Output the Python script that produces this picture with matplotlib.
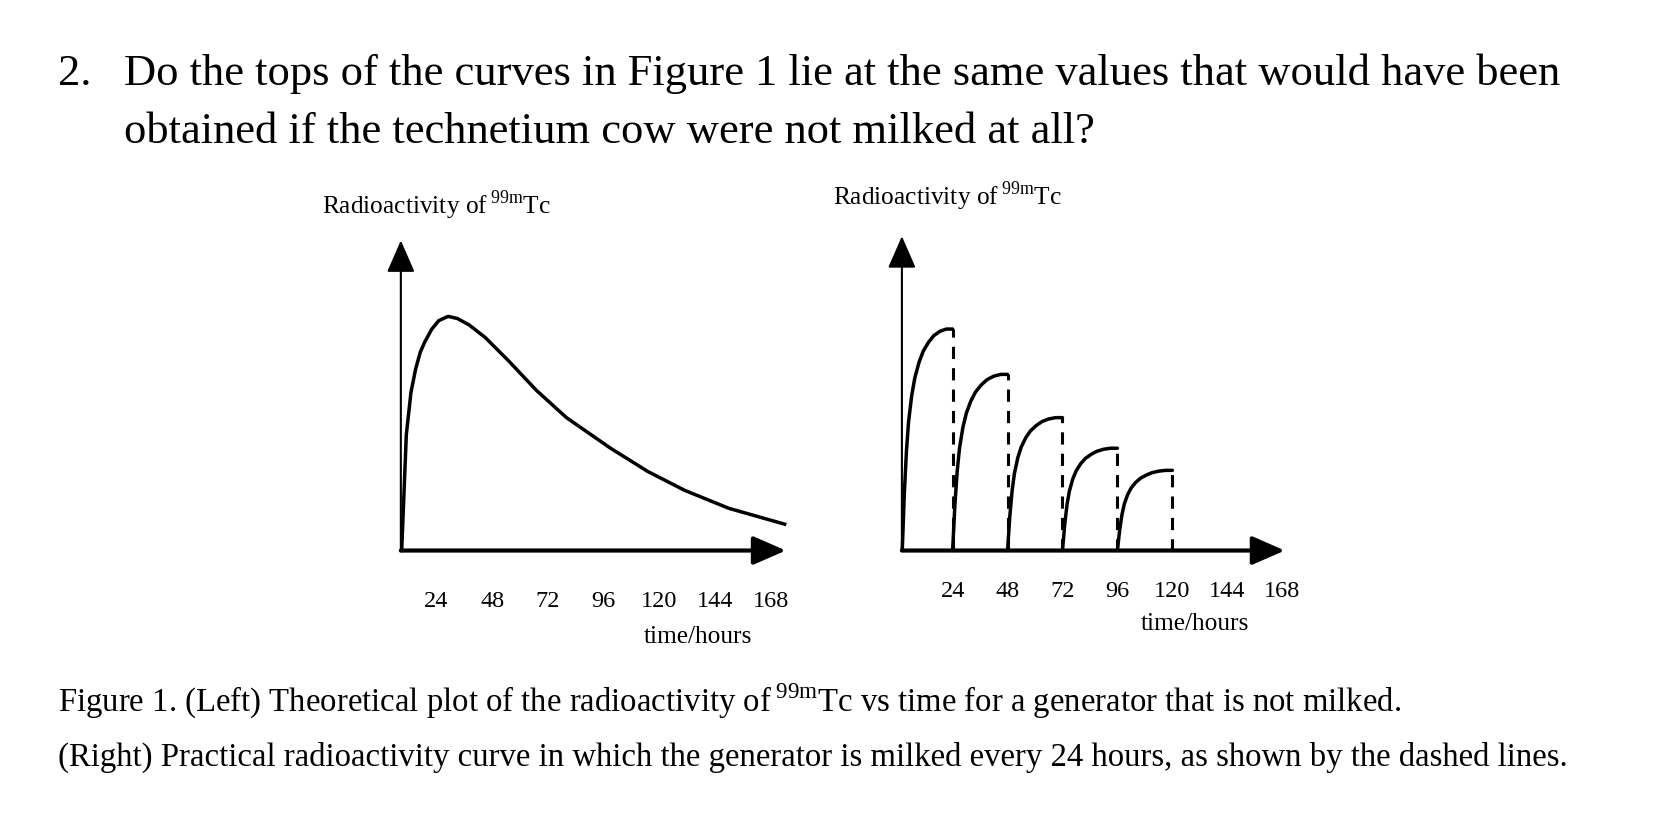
import numpy as np
import matplotlib
matplotlib.use("Agg")
import matplotlib.pyplot as plt

plt.rcParams['font.family'] = ['Liberation Serif', 'DejaVu Serif']
plt.rcParams['mathtext.fontset'] = 'custom'
plt.rcParams['mathtext.rm'] = 'Liberation Serif'

# data
tick_hours = [24, 48, 72, 96, 120, 144, 168]
tick_labels = ['24', '48', '72', '96', '120', '144', '168']
left_t = [9, 11, 13, 15, 17, 19, 22, 25, 29, 33, 38, 45, 55, 67, 80, 99, 115, 131, 150, 174]
left_y = [0, 110, 150, 172, 188, 198, 210, 218, 222, 220, 214, 202, 180, 152, 126, 97, 75, 57, 40, 25]
milk_times = [2, 24, 48, 72, 96]
peaks = [210, 167, 126, 97, 76]
seg_dt = [0, 1, 2, 3, 4.5, 6, 8, 10, 12.5, 15, 18, 21, 24]
seg_frac = [0, 0.26, 0.45, 0.58, 0.70, 0.78, 0.85, 0.90, 0.94, 0.97, 0.99, 1.0, 1.0]

W, H = 1568, 787
fig = plt.figure(figsize=(16.54, 8.30), dpi=100)

def fx(x): return x / W
def fy(y): return 1 - y / H

def make_ax(x0, x1, ytop, ybase, xlim, ylim):
    ax = fig.add_axes([fx(x0), fy(ybase), fx(x1) - fx(x0), fy(ytop) - fy(ybase)])
    ax.set_xlim(*xlim); ax.set_ylim(*ylim)
    for s in ax.spines.values():
        s.set_visible(False)
    ax.set_yticks([])
    ax.patch.set_alpha(0)
    return ax

def axes_arrows(ax, xlw, ylw):
    for xy in [(1, 0), (0, 1)]:
        ax.annotate('', xy=xy, xytext=(0, 0), xycoords='axes fraction',
                    arrowprops=dict(arrowstyle='-|>,head_length=0.8,head_width=0.35',
                                    lw=xlw if xy == (1, 0) else ylw, color='k',
                                    mutation_scale=25, shrinkA=0, shrinkB=0), annotation_clip=False)

# Left panel: h=0 at 361 px, 2.2 px/h
axL = make_ax(380, 745, 228, 522, ((380 - 361) / 2.2, (745 - 361) / 2.2), (0, 294))
axes_arrows(axL, 3, 1.5)
axL.plot(left_t, left_y, color='k', lw=2.5, clip_on=False)
axL.set_xticks(tick_hours, tick_labels, fontsize=17.5)
axL.tick_params(axis='x', length=0, pad=29)

# Right panel: h=0 at 851 px, 2.17 px/h
axR = make_ax(855, 1218, 224, 522, ((855 - 851) / 2.17, (1218 - 851) / 2.17), (0, 298))
axes_arrows(axR, 3, 1.5)
for i, (t0, p) in enumerate(zip(milk_times, peaks)):
    end = 24 * (i + 1)
    tt = [t0 + d * (end - t0) / 24 for d in seg_dt]
    yy = [p * f for f in seg_frac]
    axR.plot(tt, yy, color='k', lw=2.5, clip_on=False, solid_capstyle='round')
    axR.plot([end, end], [0, p], color='k', lw=2.2, ls=(0, (4, 3)))
axR.set_xticks(tick_hours, tick_labels, fontsize=17.5)
axR.tick_params(axis='x', length=0, pad=22)

# labels
fig.text(fx(305), fy(195), r'Radioactivity of$\,^{\mathrm{99m}}$Tc', fontsize=18.3, va='center', ha='left')
fig.text(fx(790), fy(186), r'Radioactivity of$\,^{\mathrm{99m}}$Tc', fontsize=18.3, va='center', ha='left')
fig.text(fx(662), fy(604), 'time/hours', fontsize=18.3, va='center', ha='center')
fig.text(fx(1133), fy(592), 'time/hours', fontsize=18.3, va='center', ha='center')

fig.text(fx(55), fy(70), '2.', fontsize=32, va='center', ha='left')
fig.text(fx(118), fy(70), 'Do the tops of the curves in Figure 1 lie at the same values that would have been',
         fontsize=32, va='center', ha='left')
fig.text(fx(118), fy(125), 'obtained if the technetium cow were not milked at all?',
         fontsize=32, va='center', ha='left')
fig.text(fx(55), fy(665), r'Figure 1. (Left) Theoretical plot of the radioactivity of$\,^{\mathrm{99m}}$Tc vs time for a generator that is not milked.',
         fontsize=23.6, va='center', ha='left')
fig.text(fx(55), fy(718), '(Right) Practical radioactivity curve in which the generator is milked every 24 hours, as shown by the dashed lines.',
         fontsize=23.6, va='center', ha='left')

fig.savefig('out.png', dpi=100)
